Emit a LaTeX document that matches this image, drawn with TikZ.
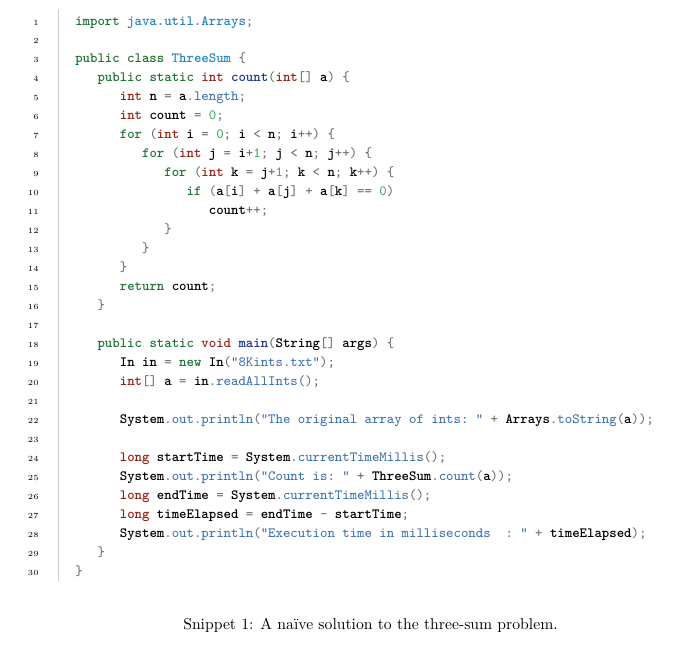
\documentclass[tikz,border=0pt]{standalone}
\usepackage{xcolor}
\definecolor{ckw}{RGB}{29,115,50}
\definecolor{cty}{RGB}{150,32,18}
\definecolor{ccl}{RGB}{40,130,190}
\definecolor{cfn}{RGB}{25,50,140}
\definecolor{cat}{RGB}{55,110,175}
\definecolor{cst}{RGB}{55,110,175}
\definecolor{cnu}{RGB}{60,165,95}
\definecolor{cop}{RGB}{105,105,105}
\definecolor{crule}{RGB}{205,205,205}
\newcommand\cKw[1]{\textcolor{ckw}{\bfseries #1}}
\newcommand\cTy[1]{\textcolor{cty}{\bfseries #1}}
\newcommand\cCl[1]{\textcolor{ccl}{\bfseries #1}}
\newcommand\cFn[1]{\textcolor{cfn}{\bfseries #1}}
\newcommand\cAt[1]{\textcolor{cat}{#1}}
\newcommand\cSt[1]{\textcolor{cst}{#1}}
\newcommand\cNu[1]{\textcolor{cnu}{#1}}
\newcommand\cOp[1]{\textcolor{cop}{#1}}
\newcommand\cId[1]{{\bfseries #1}}
\newcommand\numln[1]{\node[lnum] (n#1) at (39,{25+18.97*(#1-1)}) {#1};}
\newcommand\codeln[3]{\numln{#1}\node[codetext] (c#1) at ({75+7.42*#2},{25+18.97*(#1-1)}) {#3};}
\begin{document}
\begin{tikzpicture}[x=0.637pt,y=-0.637pt,
  lnum/.style={anchor=base east,inner sep=0pt,font=\fontsize{5}{6}\selectfont},
  codetext/.style={anchor=base west,inner sep=0pt,font=\fontsize{9}{11}\selectfont\ttfamily\frenchspacing},
  captext/.style={anchor=base,inner sep=0pt,font=\fontsize{10}{12}\selectfont},
  leftrule/.style={draw=crule,line width=0.6pt}]
\useasboundingbox (0,0) rectangle (688,652);
\coordinate (rtop) at (58.3,9);
\coordinate (rbot) at (58.3,581);
\draw[leftrule] (rtop) -- (rbot);
\codeln{1}{0}{\cKw{import} \cCl{java.util.Arrays}\cOp{;}}
\numln{2}
\codeln{3}{0}{\cKw{public} \cKw{class} \cCl{ThreeSum} \cOp{\{}}
\codeln{4}{3}{\cKw{public} \cKw{static} \cTy{int} \cFn{count}\cOp{(}\cTy{int}\cOp{[]} \cId{a}\cOp{)} \cOp{\{}}
\codeln{5}{6}{\cTy{int} \cId{n} \cOp{=} \cId{a}\cOp{.}\cAt{length}\cOp{;}}
\codeln{6}{6}{\cTy{int} \cId{count} \cOp{=} \cNu{0}\cOp{;}}
\codeln{7}{6}{\cKw{for} \cOp{(}\cTy{int} \cId{i} \cOp{=} \cNu{0}\cOp{;} \cId{i} \cOp{<} \cId{n}\cOp{;} \cId{i}\cOp{++)} \cOp{\{}}
\codeln{8}{9}{\cKw{for} \cOp{(}\cTy{int} \cId{j} \cOp{=} \cId{i}\cOp{+}\cNu{1}\cOp{;} \cId{j} \cOp{<} \cId{n}\cOp{;} \cId{j}\cOp{++)} \cOp{\{}}
\codeln{9}{12}{\cKw{for} \cOp{(}\cTy{int} \cId{k} \cOp{=} \cId{j}\cOp{+}\cNu{1}\cOp{;} \cId{k} \cOp{<} \cId{n}\cOp{;} \cId{k}\cOp{++)} \cOp{\{}}
\codeln{10}{15}{\cKw{if} \cOp{(}\cId{a}\cOp{[}\cId{i}\cOp{]} \cOp{+} \cId{a}\cOp{[}\cId{j}\cOp{]} \cOp{+} \cId{a}\cOp{[}\cId{k}\cOp{]} \cOp{==} \cNu{0}\cOp{)}}
\codeln{11}{18}{\cId{count}\cOp{++;}}
\codeln{12}{12}{\cOp{\}}}
\codeln{13}{9}{\cOp{\}}}
\codeln{14}{6}{\cOp{\}}}
\codeln{15}{6}{\cKw{return} \cId{count}\cOp{;}}
\codeln{16}{3}{\cOp{\}}}
\numln{17}
\codeln{18}{3}{\cKw{public} \cKw{static} \cTy{void} \cFn{main}\cOp{(}\cId{String}\cOp{[]} \cId{args}\cOp{)} \cOp{\{}}
\codeln{19}{6}{\cId{In} \cId{in} \cOp{=} \cKw{new} \cId{In}\cOp{(}\cSt{"8Kints.txt"}\cOp{);}}
\codeln{20}{6}{\cTy{int}\cOp{[]} \cId{a} \cOp{=} \cId{in}\cOp{.}\cAt{readAllInts}\cOp{();}}
\numln{21}
\codeln{22}{6}{\cId{System}\cOp{.}\cAt{out}\cOp{.}\cAt{println}\cOp{(}\cSt{"The original array of ints: "} \cOp{+} \cId{Arrays}\cOp{.}\cAt{toString}\cOp{(}\cId{a}\cOp{));}}
\numln{23}
\codeln{24}{6}{\cTy{long} \cId{startTime} \cOp{=} \cId{System}\cOp{.}\cAt{currentTimeMillis}\cOp{();}}
\codeln{25}{6}{\cId{System}\cOp{.}\cAt{out}\cOp{.}\cAt{println}\cOp{(}\cSt{"Count is: "} \cOp{+} \cId{ThreeSum}\cOp{.}\cAt{count}\cOp{(}\cId{a}\cOp{));}}
\codeln{26}{6}{\cTy{long} \cId{endTime} \cOp{=} \cId{System}\cOp{.}\cAt{currentTimeMillis}\cOp{();}}
\codeln{27}{6}{\cTy{long} \cId{timeElapsed} \cOp{=} \cId{endTime} \cOp{-} \cId{startTime}\cOp{;}}
\codeln{28}{6}{\cId{System}\cOp{.}\cAt{out}\cOp{.}\cAt{println}\cOp{(}\cSt{"Execution time in milliseconds~~: "} \cOp{+} \cId{timeElapsed}\cOp{);}}
\codeln{29}{3}{\cOp{\}}}
\codeln{30}{0}{\cOp{\}}}
\node[captext] (cap) at (370.5,629) {Snippet 1: A naïve solution to the three-sum problem.};
\end{tikzpicture}
\end{document}
